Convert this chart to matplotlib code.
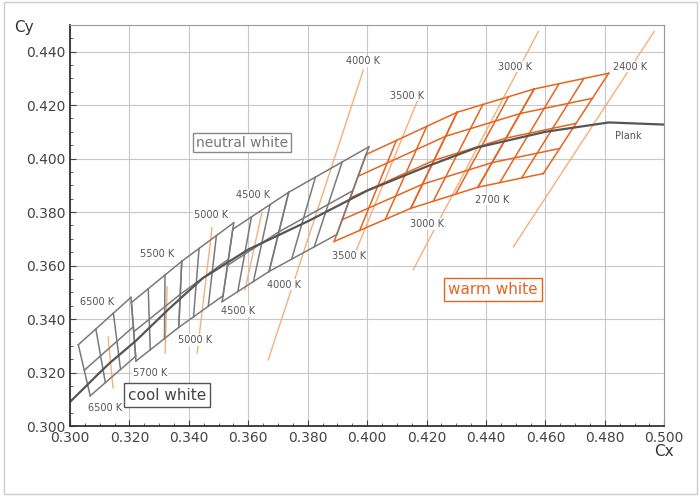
import numpy as np
import matplotlib
matplotlib.use("Agg")
import matplotlib.pyplot as plt

# ANSI quadrangle corners: top-right, top-left, bottom-left, bottom-right
quads = {
    "2700": [(0.4813,0.4319),(0.4562,0.4260),(0.4373,0.3893),(0.4593,0.3944)],
    "3000": [(0.4562,0.4260),(0.4303,0.4173),(0.4147,0.3814),(0.4373,0.3893)],
    "3500": [(0.4303,0.4173),(0.3996,0.4015),(0.3889,0.3690),(0.4147,0.3814)],
    "4000": [(0.4006,0.4044),(0.3736,0.3874),(0.3670,0.3578),(0.3898,0.3716)],
    "4500": [(0.3736,0.3874),(0.3548,0.3736),(0.3512,0.3465),(0.3670,0.3578)],
    "5000": [(0.3551,0.3760),(0.3376,0.3616),(0.3366,0.3369),(0.3515,0.3487)],
    "5700": [(0.3376,0.3616),(0.3207,0.3462),(0.3222,0.3243),(0.3366,0.3369)],
    "6500": [(0.3205,0.3481),(0.3028,0.3304),(0.3068,0.3113),(0.3221,0.3261)],
}
warm = ["2700", "3000", "3500"]

planck_x = [0.300, 0.310, 0.3135, 0.3221, 0.333, 0.3447, 0.360, 0.3805, 0.400, 0.420, 0.4369, 0.460, 0.4813, 0.500]
planck_y = [0.309, 0.3200, 0.3237, 0.3318, 0.3435, 0.3553, 0.3660, 0.3768, 0.3880, 0.3970, 0.4041, 0.4100, 0.4135, 0.4127]

iso_lines = [
    [(0.3987,0.433),(0.3667,0.3247)],
    [(0.4168,0.4213),(0.3960,0.3648)],
    [(0.4576,0.4475),(0.4155,0.3584)],
    [(0.4966,0.4475),(0.4492,0.3670)],
    [(0.3478,0.3741),(0.3428,0.3273)],
    [(0.3646,0.3800),(0.3589,0.3509)],
    [(0.3327,0.3520),(0.3320,0.3273)],
    [(0.3128,0.3333),(0.3145,0.3142)],
]

labels = [
    ("4000 K",0.3987,0.4363),("3500 K",0.4135,0.4235),("3000 K",0.4498,0.4344),
    ("2400 K",0.4886,0.4344),("Plank",0.4879,0.4086),("2700 K",0.4421,0.3846),
    ("3000 K",0.4202,0.3756),("3500 K",0.3939,0.3636),("4000 K",0.3720,0.3528),
    ("4500 K",0.3566,0.3430),("5000 K",0.3421,0.3322),("5700 K",0.3269,0.3198),
    ("6500 K",0.3118,0.3067),("6500 K",0.3091,0.3464),("5500 K",0.3293,0.3644),
    ("5000 K",0.3475,0.3790),("4500 K",0.3616,0.3865),
]

ORANGE = "#e8641e"
LORANGE = "#f4b07a"
GRAY = "#7a7a7a"

fig = plt.figure(figsize=(7, 4.96), dpi=100)
fig.patches.append(matplotlib.patches.Rectangle((0.005,0.005),0.99,0.99, transform=fig.transFigure,
                   fill=False, ec="#cccccc", lw=1))
ax = fig.add_axes([0.1, 0.141, 0.849, 0.809])
ax.set_xlim(0.3, 0.5)
ax.set_ylim(0.3, 0.45)
ax.set_xticks(np.arange(0.30, 0.501, 0.02))
ax.set_yticks(np.arange(0.30, 0.441, 0.02))
ax.set_xticks(np.arange(0.30, 0.501, 0.005), minor=True)
ax.set_yticks(np.arange(0.30, 0.451, 0.005), minor=True)
ax.xaxis.set_major_formatter(matplotlib.ticker.FormatStrFormatter("%.3f"))
ax.yaxis.set_major_formatter(matplotlib.ticker.FormatStrFormatter("%.3f"))
ax.grid(True, which="major", color="#c8c8c8", lw=0.8)
ax.tick_params(labelsize=10, colors="#444444", direction="in", length=4)
ax.tick_params(which="minor", direction="in", length=2, color="#444444")
for s in ax.spines.values():
    s.set_color("#999999")
ax.spines["left"].set_color("#333333"); ax.spines["bottom"].set_color("#333333")
ax.spines["left"].set_linewidth(1.3); ax.spines["bottom"].set_linewidth(1.3)

for ln in iso_lines:
    xs, ys = zip(*ln)
    ax.plot(xs, ys, color=LORANGE, lw=1)

def bil(q, u, v):
    tr, tl, bl, br = [np.array(p) for p in q]
    top = tl + (tr - tl) * u
    bot = bl + (br - bl) * u
    return top + (bot - top) * v

for k, q in quads.items():
    w = k in warm
    col = ORANGE if w else GRAY
    nu, nv = (3, 4) if w else (3, 2)
    for i in range(nu + 1):
        pts = np.array([bil(q, i / nu, t) for t in np.linspace(0, 1, 2)])
        ax.plot(pts[:, 0], pts[:, 1], color=col, lw=1.1)
    for j in range(nv + 1):
        pts = np.array([bil(q, t, j / nv) for t in np.linspace(0, 1, 2)])
        ax.plot(pts[:, 0], pts[:, 1], color=col, lw=1.1)

ax.plot(planck_x, planck_y, color="#555555", lw=1.6)

for t, x, y in labels:
    ax.text(x, y, t, fontsize=7, color="#555555", ha="center", va="center",
            bbox=dict(fc="white", ec="none", pad=0.5))

ax.text(0.3579, 0.406, "neutral white", fontsize=10, color="#777777", ha="center", va="center",
        bbox=dict(fc="white", ec="#888888", pad=2))
ax.text(0.3327, 0.3116, "cool white", fontsize=11, color="#444444", ha="center", va="center",
        bbox=dict(fc="white", ec="#555555", pad=3))
ax.text(0.4424, 0.351, "warm white", fontsize=11, color=ORANGE, ha="center", va="center",
        bbox=dict(fc="white", ec=ORANGE, pad=3))

fig.text(0.02, 0.935, "Cy", fontsize=11, color="#333333")
fig.text(0.935, 0.08, "Cx", fontsize=11, color="#333333")
fig.savefig("out.png", dpi=100)
